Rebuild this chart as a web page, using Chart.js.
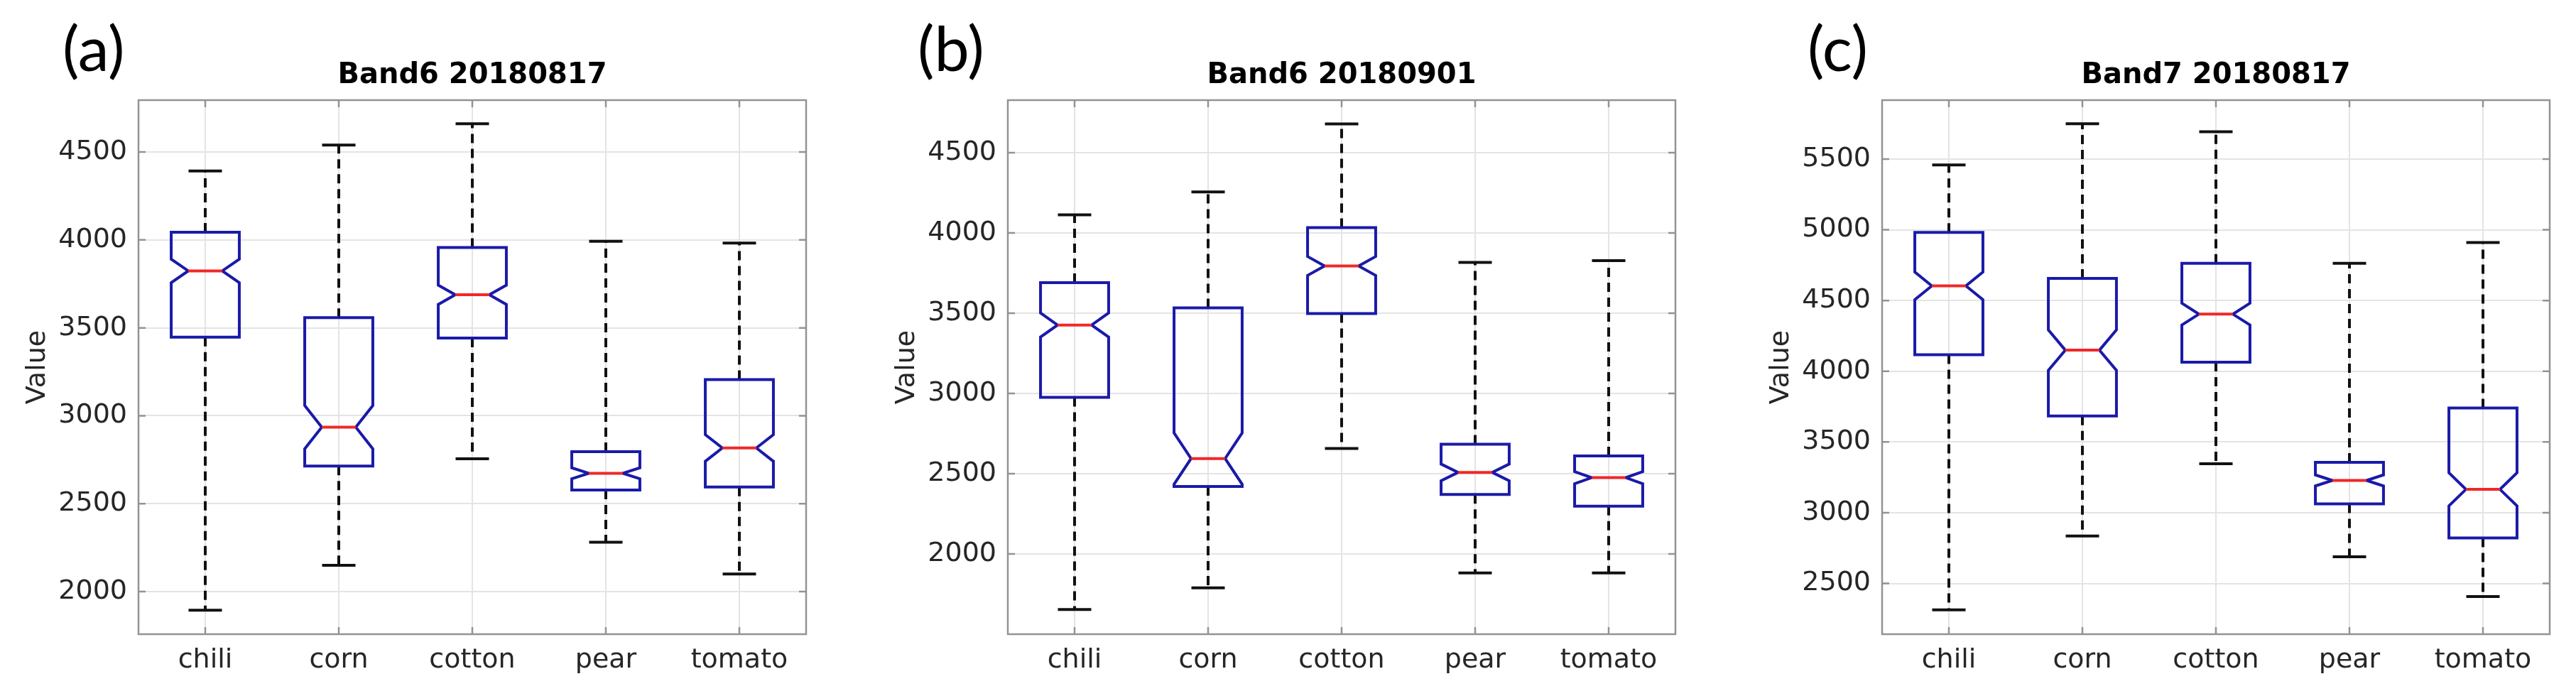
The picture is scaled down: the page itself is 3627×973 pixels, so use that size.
<!DOCTYPE html>
<html>
<head>
<meta charset="utf-8">
<script src="https://cdn.jsdelivr.net/npm/chart.js@4.4.0/dist/chart.umd.min.js"></script>
<style>
html, body { margin: 0; padding: 0; background: #fff; }
body { width: 3627px; height: 973px; position: relative; overflow: hidden; }
.panel { position: absolute; top: 0; width: 1172px; height: 973px; }
.tag { position: absolute; top: 22px; font-family: Lato, "Open Sans", sans-serif; font-size: 88px; line-height: 1; color: #000; }
</style>
</head>
<body>
<div class="tag" style="left:88px">(a)</div>
<div class="tag" style="left:1292px">(b)</div>
<div class="tag" style="left:2545px">(c)</div>
<div class="panel" style="left:0px"><canvas id="chartA"></canvas></div>
<div class="panel" style="left:1224px"><canvas id="chartB"></canvas></div>
<div class="panel" style="left:2455px"><canvas id="chartC"></canvas></div>
<script>
const categories = ["chili", "corn", "cotton", "pear", "tomato"];

// (a) Band6 20180817
const b6_0817_upper  = [4392, 4540, 4661, 3992, 3982];
const b6_0817_q3     = [4044, 3558, 3957, 2796, 3206];
const b6_0817_median = [3824, 2935, 3688, 2673, 2817];
const b6_0817_q1     = [3447, 2714, 3442, 2578, 2595];
const b6_0817_lower  = [1894, 2150, 2756, 2281, 2100];
const b6_0817_notch  = [67, 123, 55, 31, 76];
const b6_0817_ticks  = [2000, 2500, 3000, 3500, 4000, 4500];
const b6_0817_range  = [1758, 4795];

// (b) Band6 20180901
const b6_0901_upper  = [4113, 4255, 4679, 3816, 3827];
const b6_0901_q3     = [3690, 3533, 4033, 2684, 2610];
const b6_0901_median = [3426, 2594, 3794, 2508, 2475];
const b6_0901_q1     = [2975, 2420, 3497, 2371, 2297];
const b6_0901_lower  = [1654, 1789, 2657, 1882, 1882];
const b6_0901_notch  = [75, 160, 59, 52, 38];
const b6_0901_ticks  = [2000, 2500, 3000, 3500, 4000, 4500];
const b6_0901_range  = [1500, 4827];

// (c) Band7 20180817
const b7_0817_upper  = [5459, 5750, 5694, 4763, 4910];
const b7_0817_q3     = [4982, 4657, 4763, 3356, 3740];
const b7_0817_median = [4604, 4149, 4404, 3228, 3165];
const b7_0817_q1     = [4117, 3684, 4064, 3062, 2822];
const b7_0817_lower  = [2313, 2835, 3346, 2688, 2407];
const b7_0817_notch  = [98, 143, 77, 39, 117];
const b7_0817_ticks  = [2500, 3000, 3500, 4000, 4500, 5000, 5500];
const b7_0817_range  = [2141, 5917];

const textColor = "#262626";
const gridColor = "#e4e4e4";
const frameColor = "#939393";

// notched boxes, whiskers and medians, positioned with the chart scales
const notchBox = {
    id: "notchBox",
    afterDatasetsDraw(chart, args, opts) {
        const ctx = chart.ctx;
        const x = chart.scales.x;
        const y = chart.scales.y;
        const unit = x.getPixelForValue(1) - x.getPixelForValue(0);
        const hw = unit * 0.255;
        const cap = unit * 0.125;
        ctx.save();
        for (let i = 0; i < categories.length; i++) {
            const cx = x.getPixelForValue(i);
            const up = y.getPixelForValue(opts.upper[i]);
            const q3 = y.getPixelForValue(opts.q3[i]);
            const md = y.getPixelForValue(opts.median[i]);
            const q1 = y.getPixelForValue(opts.q1[i]);
            const lo = y.getPixelForValue(opts.lower[i]);
            const nt = y.getPixelForValue(opts.median[i] + opts.notch[i]);
            const nb = y.getPixelForValue(opts.median[i] - opts.notch[i]);

            // whiskers
            ctx.strokeStyle = "#111";
            ctx.lineWidth = 4;
            ctx.setLineDash([13, 8]);
            ctx.beginPath();
            ctx.moveTo(cx, q3); ctx.lineTo(cx, up);
            ctx.moveTo(cx, q1); ctx.lineTo(cx, lo);
            ctx.stroke();
            ctx.setLineDash([]);
            ctx.beginPath();
            ctx.moveTo(cx - cap, up); ctx.lineTo(cx + cap, up);
            ctx.moveTo(cx - cap, lo); ctx.lineTo(cx + cap, lo);
            ctx.stroke();

            // notched box
            ctx.strokeStyle = "#1a1aa8";
            ctx.lineWidth = 4;
            ctx.beginPath();
            ctx.moveTo(cx - hw, q3);
            ctx.lineTo(cx + hw, q3);
            ctx.lineTo(cx + hw, nt);
            ctx.lineTo(cx + hw / 2, md);
            ctx.lineTo(cx + hw, nb);
            ctx.lineTo(cx + hw, q1);
            ctx.lineTo(cx - hw, q1);
            ctx.lineTo(cx - hw, nb);
            ctx.lineTo(cx - hw / 2, md);
            ctx.lineTo(cx - hw, nt);
            ctx.closePath();
            ctx.stroke();

            // median
            ctx.strokeStyle = "#f02828";
            ctx.lineWidth = 4;
            ctx.beginPath();
            ctx.moveTo(cx - hw / 2, md); ctx.lineTo(cx + hw / 2, md);
            ctx.stroke();
        }
        ctx.restore();
    }
};

// box round the axes with inward ticks
const frame = {
    id: "frame",
    afterDraw(chart) {
        const ctx = chart.ctx;
        const a = chart.chartArea;
        const x = chart.scales.x;
        const y = chart.scales.y;
        const t = 10;
        ctx.save();
        ctx.strokeStyle = frameColor;
        ctx.lineWidth = 2.5;
        ctx.strokeRect(a.left, a.top, a.right - a.left, a.bottom - a.top);
        ctx.beginPath();
        for (let i = 0; i < categories.length; i++) {
            const px = x.getPixelForValue(i);
            ctx.moveTo(px, a.bottom); ctx.lineTo(px, a.bottom - t);
            ctx.moveTo(px, a.top); ctx.lineTo(px, a.top + t);
        }
        y.ticks.forEach(tk => {
            const py = y.getPixelForValue(tk.value);
            ctx.moveTo(a.left, py); ctx.lineTo(a.left + t, py);
            ctx.moveTo(a.right, py); ctx.lineTo(a.right - t, py);
        });
        ctx.stroke();
        ctx.restore();
    }
};

function makePanel(id, title, upper, q3, median, q1, lower, notch, yTicks, yRange) {
    new Chart(document.getElementById(id), {
        type: "bar",
        data: {
            labels: categories,
            datasets: [{
                data: lower.map((v, i) => [v, upper[i]]),
                backgroundColor: "rgba(0,0,0,0)",
                borderWidth: 0
            }]
        },
        options: {
            responsive: true,
            maintainAspectRatio: false,
            devicePixelRatio: 1,
            animation: false,
            events: [],
            layout: { padding: { top: 83, right: 37, left: 0, bottom: 0 } },
            plugins: {
                legend: { display: false },
                tooltip: { enabled: false },
                title: {
                    display: true,
                    text: title,
                    fullSize: false,
                    color: "#000",
                    font: { family: "DejaVu Sans", size: 40, weight: "bold" },
                    padding: { top: 0, bottom: 10 }
                },
                notchBox: { upper, q3, median, q1, lower, notch }
            },
            scales: {
                x: {
                    type: "category",
                    offset: true,
                    grid: { offset: false, color: gridColor, lineWidth: 2, drawTicks: false },
                    border: { display: false },
                    ticks: {
                        color: textColor,
                        font: { family: "DejaVu Sans", size: 38 },
                        padding: 14,
                        maxRotation: 0,
                        autoSkip: false
                    },
                    afterFit(scale) { scale.height = 80; }
                },
                y: {
                    type: "linear",
                    min: yRange[0],
                    max: yRange[1],
                    grid: { color: gridColor, lineWidth: 2, drawTicks: false },
                    border: { display: false },
                    ticks: {
                        color: textColor,
                        font: { family: "DejaVu Sans", size: 38 },
                        padding: 16,
                        callback: v => String(v)
                    },
                    afterBuildTicks(scale) { scale.ticks = yTicks.map(v => ({ value: v })); },
                    title: {
                        display: true,
                        text: "Value",
                        color: textColor,
                        font: { family: "DejaVu Sans", size: 38 },
                        padding: { top: 30, bottom: 0 }
                    },
                    afterFit(scale) { scale.width = 195; }
                }
            }
        },
        plugins: [notchBox, frame]
    });
}

makePanel("chartA", "Band6 20180817", b6_0817_upper, b6_0817_q3, b6_0817_median, b6_0817_q1, b6_0817_lower, b6_0817_notch, b6_0817_ticks, b6_0817_range);
makePanel("chartB", "Band6 20180901", b6_0901_upper, b6_0901_q3, b6_0901_median, b6_0901_q1, b6_0901_lower, b6_0901_notch, b6_0901_ticks, b6_0901_range);
makePanel("chartC", "Band7 20180817", b7_0817_upper, b7_0817_q3, b7_0817_median, b7_0817_q1, b7_0817_lower, b7_0817_notch, b7_0817_ticks, b7_0817_range);
</script>
</body>
</html>
